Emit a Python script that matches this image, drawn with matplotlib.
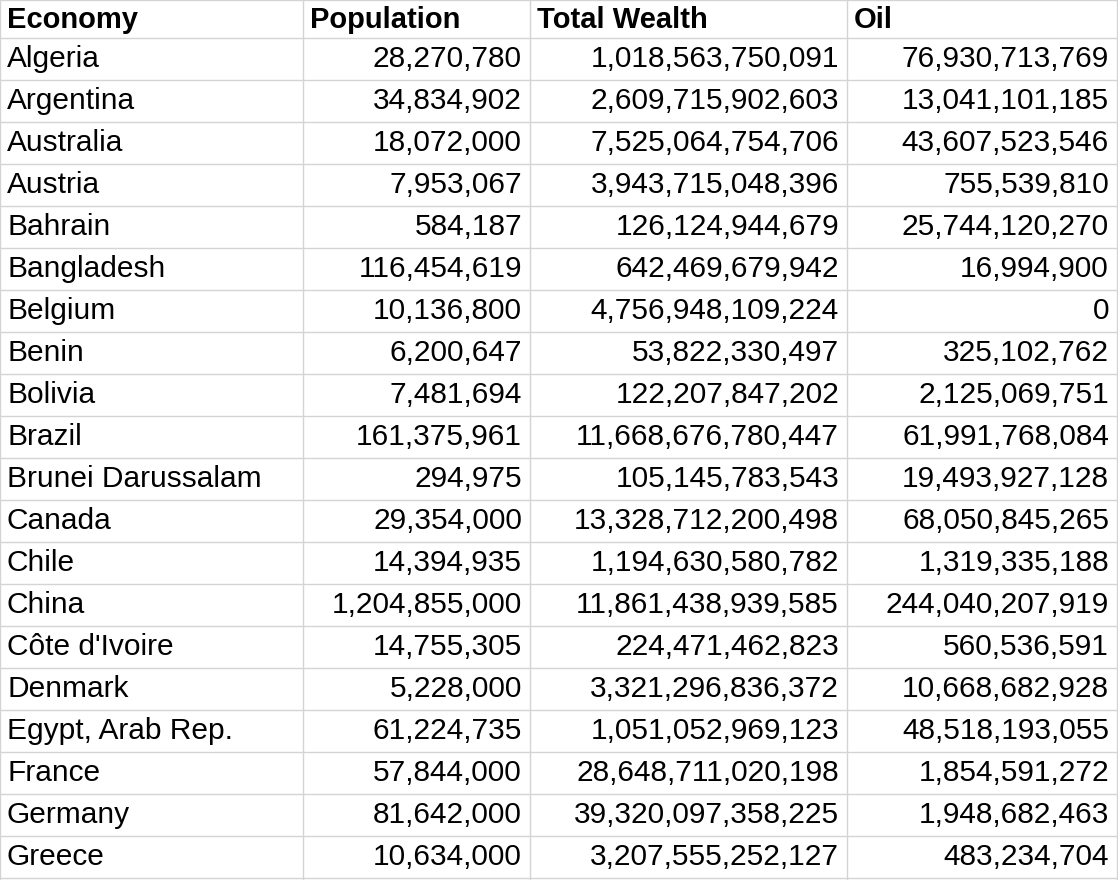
import matplotlib
matplotlib.use("Agg")
import matplotlib.pyplot as plt

headers = ["Economy", "Population", "Total Wealth", "Oil"]
economies = ["Algeria", "Argentina", "Australia", "Austria", "Bahrain", "Bangladesh",
             "Belgium", "Benin", "Bolivia", "Brazil", "Brunei Darussalam", "Canada",
             "Chile", "China", "Côte d'Ivoire", "Denmark", "Egypt, Arab Rep.", "France",
             "Germany", "Greece"]
population = [28270780, 34834902, 18072000, 7953067, 584187, 116454619, 10136800,
              6200647, 7481694, 161375961, 294975, 29354000, 14394935, 1204855000,
              14755305, 5228000, 61224735, 57844000, 81642000, 10634000]
total_wealth = [1018563750091, 2609715902603, 7525064754706, 3943715048396,
                126124944679, 642469679942, 4756948109224, 53822330497, 122207847202,
                11668676780447, 105145783543, 13328712200498, 1194630580782,
                11861438939585, 224471462823, 3321296836372, 1051052969123,
                28648711020198, 39320097358225, 3207555252127]
oil = [76930713769, 13041101185, 43607523546, 755539810, 25744120270, 16994900, 0,
       325102762, 2125069751, 61991768084, 19493927128, 68050845265, 1319335188,
       244040207919, 560536591, 10668682928, 48518193055, 1854591272, 1948682463,
       483234704]

W, H = 1118, 880
fig = plt.figure(figsize=(W / 100, H / 100), dpi=100)
ax = fig.add_axes([0, 0, 1, 1])
ax.set_xlim(0, W)
ax.set_ylim(H, 0)
ax.axis("off")

col_edges = [0, 303, 530, 847, 1117]
header_h = 38
row_h = 42
line_c = "#d4d4d4"
font = "Liberation Sans"
fs = 21.5

n = len(economies)
row_edges = [0, header_h] + [header_h + row_h * (i + 1) for i in range(n)]
for y in row_edges:
    ax.plot([0, W], [y, y], color=line_c, lw=1)
for x in col_edges:
    ax.plot([x, x], [0, H], color=line_c, lw=1)

for j, h in enumerate(headers):
    ax.text(col_edges[j] + 7, 28, h, fontsize=21, fontweight="bold",
            fontfamily=font, va="baseline", ha="left")

for i in range(n):
    yb = header_h + row_h * i + row_h / 2 + 8
    ax.text(col_edges[0] + 7, yb, economies[i], fontsize=fs, fontfamily=font,
            va="baseline", ha="left")
    for j, vals in enumerate([population, total_wealth, oil]):
        ax.text(col_edges[j + 2] - 8, yb, f"{vals[i]:,}", fontsize=fs,
                fontfamily=font, va="baseline", ha="right")

fig.savefig("out.png", dpi=100, facecolor="white")
